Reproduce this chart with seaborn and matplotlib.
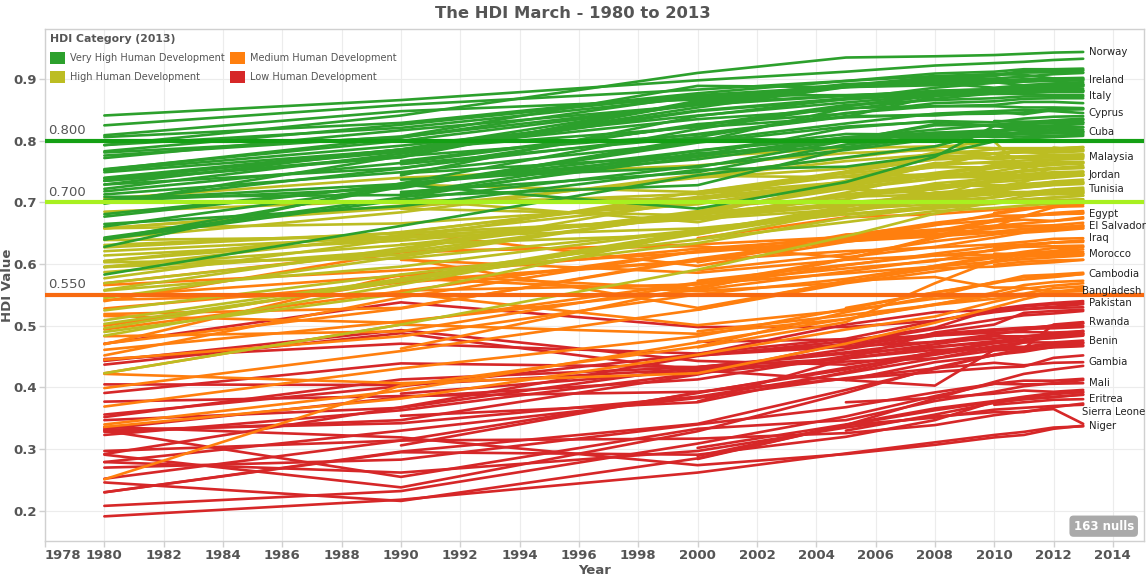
import numpy as np
import pandas as pd
import matplotlib
matplotlib.use('Agg')
import matplotlib.pyplot as plt
import seaborn as sns
from matplotlib.patches import Patch

nan = np.nan
years = [1980, 1990, 2000, 2005, 2008, 2010, 2011, 2012, 2013]

very_high = {
    'Norway': [0.793, 0.841, 0.910, 0.935, 0.937, 0.939, 0.941, 0.943, 0.944],
    'Australia': [0.841, 0.866, 0.898, 0.912, 0.922, 0.926, 0.928, 0.931, 0.933],
    'Switzerland': [0.806, 0.829, 0.877, 0.897, 0.909, 0.912, 0.916, 0.916, 0.917],
    'Netherlands': [0.783, 0.826, 0.874, 0.888, 0.899, 0.905, 0.914, 0.915, 0.915],
    'United States': [0.825, 0.858, 0.883, 0.897, 0.905, 0.908, 0.911, 0.912, 0.914],
    'Germany': [0.739, 0.782, 0.854, 0.887, 0.902, 0.906, 0.911, 0.911, 0.911],
    'New Zealand': [0.793, 0.821, 0.870, 0.888, 0.898, 0.901, 0.904, 0.908, 0.910],
    'Canada': [0.809, 0.848, 0.867, 0.892, 0.896, 0.896, 0.900, 0.901, 0.902],
    'Singapore': [nan, 0.744, 0.840, 0.868, 0.886, 0.894, 0.896, 0.899, 0.901],
    'Denmark': [0.781, 0.806, 0.859, 0.891, 0.896, 0.898, 0.899, 0.900, 0.900],
    'Ireland': [0.735, 0.775, 0.862, 0.890, 0.903, 0.908, 0.907, 0.901, 0.899],
    'Sweden': [0.776, 0.807, 0.889, 0.887, 0.890, 0.895, 0.896, 0.897, 0.898],
    'Iceland': [0.754, 0.800, 0.858, 0.888, 0.894, 0.886, 0.890, 0.893, 0.895],
    'United Kingdom': [0.735, 0.773, 0.865, 0.887, 0.892, 0.895, 0.890, 0.891, 0.892],
    'Hong Kong': [0.698, 0.775, 0.810, 0.839, 0.872, 0.882, 0.886, 0.889, 0.891],
    'Korea': [0.628, 0.731, 0.819, 0.856, 0.874, 0.882, 0.886, 0.888, 0.891],
    'Japan': [0.772, 0.817, 0.858, 0.873, 0.881, 0.884, 0.887, 0.888, 0.890],
    'Liechtenstein': [nan, nan, nan, nan, 0.881, 0.883, 0.887, 0.888, 0.889],
    'Israel': [0.749, 0.785, 0.849, 0.869, 0.877, 0.881, 0.885, 0.886, 0.888],
    'France': [0.722, 0.779, 0.848, 0.867, 0.875, 0.879, 0.882, 0.884, 0.884],
    'Austria': [0.736, 0.786, 0.835, 0.851, 0.868, 0.877, 0.879, 0.880, 0.881],
    'Belgium': [0.753, 0.805, 0.873, 0.874, 0.878, 0.880, 0.880, 0.880, 0.881],
    'Luxembourg': [0.729, 0.786, 0.861, 0.873, 0.877, 0.879, 0.878, 0.880, 0.881],
    'Finland': [0.752, 0.792, 0.841, 0.862, 0.874, 0.877, 0.880, 0.879, 0.879],
    'Slovenia': [nan, 0.767, 0.824, 0.856, 0.873, 0.876, 0.876, 0.874, 0.874],
    'Italy': [0.718, 0.764, 0.825, 0.858, 0.866, 0.869, 0.872, 0.872, 0.872],
    'Spain': [0.702, 0.755, 0.827, 0.844, 0.861, 0.864, 0.868, 0.869, 0.869],
    'Czech Republic': [nan, 0.762, 0.806, 0.845, 0.856, 0.858, 0.863, 0.863, 0.861],
    'Greece': [0.713, 0.749, 0.798, 0.853, 0.856, 0.856, 0.854, 0.854, 0.853],
    'Brunei': [0.740, 0.786, 0.822, 0.838, 0.843, 0.844, 0.846, 0.852, 0.852],
    'Qatar': [0.729, 0.756, 0.811, 0.840, 0.841, 0.847, 0.843, 0.850, 0.851],
    'Cyprus': [0.661, 0.726, 0.800, 0.828, 0.844, 0.848, 0.850, 0.848, 0.845],
    'Estonia': [nan, 0.730, 0.776, 0.821, 0.832, 0.830, 0.836, 0.839, 0.840],
    'Saudi Arabia': [0.583, 0.662, 0.744, 0.773, 0.791, 0.815, 0.825, 0.833, 0.836],
    'Lithuania': [nan, 0.737, 0.757, 0.800, 0.827, 0.824, 0.828, 0.831, 0.834],
    'Poland': [nan, 0.714, 0.784, 0.805, 0.818, 0.826, 0.830, 0.833, 0.834],
    'Andorra': [nan, nan, nan, nan, nan, 0.832, 0.831, 0.830, 0.830],
    'Slovakia': [nan, 0.747, 0.776, 0.802, 0.825, 0.826, 0.827, 0.829, 0.830],
    'Malta': [0.704, 0.730, 0.770, 0.801, 0.813, 0.813, 0.821, 0.823, 0.829],
    'United Arab Emirates': [0.640, 0.725, 0.797, 0.823, 0.831, 0.824, 0.824, 0.825, 0.827],
    'Chile': [0.640, 0.704, 0.759, 0.785, 0.803, 0.808, 0.815, 0.819, 0.822],
    'Portugal': [0.643, 0.708, 0.780, 0.790, 0.805, 0.816, 0.819, 0.822, 0.822],
    'Hungary': [0.709, 0.712, 0.774, 0.806, 0.813, 0.817, 0.817, 0.817, 0.818],
    'Bahrain': [0.677, 0.729, 0.784, 0.811, 0.810, 0.812, 0.812, 0.813, 0.815],
    'Cuba': [0.681, 0.729, 0.690, 0.733, 0.774, 0.824, 0.819, 0.813, 0.815],
    'Kuwait': [0.702, 0.723, 0.804, 0.800, 0.810, 0.810, 0.813, 0.813, 0.814],
    'Croatia': [nan, 0.717, 0.749, 0.794, 0.807, 0.808, 0.811, 0.812, 0.812],
    'Latvia': [nan, 0.710, 0.728, 0.787, 0.812, 0.806, 0.807, 0.808, 0.810],
    'Argentina': [0.665, 0.694, 0.753, 0.758, 0.777, 0.799, 0.804, 0.806, 0.808],
}

high = {
    'Uruguay': [0.658, 0.691, 0.740, 0.755, 0.773, 0.779, 0.783, 0.787, 0.790],
    'Bahamas': [nan, nan, 0.774, 0.788, 0.791, 0.788, 0.788, 0.788, 0.789],
    'Montenegro': [nan, nan, nan, 0.750, 0.778, 0.786, 0.787, 0.787, 0.789],
    'Belarus': [nan, nan, 0.683, 0.727, 0.761, 0.779, 0.786, 0.785, 0.786],
    'Romania': [0.685, 0.703, 0.706, 0.750, 0.781, 0.779, 0.782, 0.782, 0.785],
    'Libya': [0.641, 0.684, 0.745, 0.772, 0.789, 0.799, 0.753, 0.789, 0.784],
    'Oman': [nan, nan, 0.714, 0.733, 0.759, 0.780, 0.781, 0.781, 0.783],
    'Russia': [nan, 0.729, 0.717, 0.750, 0.770, 0.773, 0.775, 0.777, 0.778],
    'Bulgaria': [0.658, 0.695, 0.714, 0.749, 0.770, 0.773, 0.774, 0.776, 0.777],
    'Barbados': [0.706, 0.740, 0.760, 0.780, 0.785, 0.779, 0.783, 0.776, 0.776],
    'Palau': [nan, nan, 0.741, 0.767, 0.778, 0.770, 0.773, 0.775, 0.775],
    'Antigua and Barbuda': [nan, nan, nan, nan, nan, 0.778, 0.772, 0.773, 0.774],
    'Malaysia': [0.577, 0.641, 0.717, 0.747, 0.760, 0.766, 0.768, 0.770, 0.773],
    'Mauritius': [0.558, 0.626, 0.686, 0.722, 0.738, 0.756, 0.763, 0.769, 0.771],
    'Trinidad and Tobago': [0.658, 0.666, 0.697, 0.735, 0.764, 0.764, 0.763, 0.765, 0.766],
    'Lebanon': [nan, nan, nan, 0.735, 0.743, 0.761, 0.764, 0.764, 0.765],
    'Panama': [0.627, 0.651, 0.709, 0.730, 0.748, 0.759, 0.757, 0.761, 0.765],
    'Venezuela': [0.639, 0.644, 0.673, 0.716, 0.747, 0.756, 0.759, 0.763, 0.764],
    'Costa Rica': [0.605, 0.652, 0.705, 0.727, 0.744, 0.750, 0.758, 0.761, 0.763],
    'Turkey': [0.496, 0.576, 0.653, 0.687, 0.710, 0.738, 0.752, 0.756, 0.759],
    'Kazakhstan': [nan, 0.690, 0.679, 0.733, 0.744, 0.747, 0.750, 0.754, 0.757],
    'Mexico': [0.595, 0.647, 0.699, 0.724, 0.739, 0.746, 0.752, 0.755, 0.756],
    'Seychelles': [nan, nan, 0.743, 0.741, 0.746, 0.743, 0.752, 0.755, 0.756],
    'Saint Kitts and Nevis': [nan, nan, nan, nan, 0.741, 0.741, 0.746, 0.749, 0.750],
    'Sri Lanka': [0.569, 0.620, 0.679, 0.710, 0.725, 0.736, 0.740, 0.745, 0.750],
    'Iran': [0.490, 0.552, 0.652, 0.694, 0.711, 0.725, 0.733, 0.749, 0.749],
    'Azerbaijan': [nan, nan, 0.640, 0.686, 0.724, 0.743, 0.743, 0.745, 0.747],
    'Jordan': [0.587, 0.622, 0.705, 0.733, 0.742, 0.744, 0.744, 0.744, 0.745],
    'Serbia': [nan, nan, 0.713, 0.743, 0.757, 0.757, 0.764, 0.743, 0.745],
    'Brazil': [0.545, 0.612, 0.682, 0.705, 0.731, 0.739, 0.740, 0.742, 0.744],
    'Georgia': [nan, nan, nan, 0.710, 0.721, 0.733, 0.736, 0.740, 0.744],
    'Grenada': [nan, nan, nan, 0.735, 0.744, 0.742, 0.743, 0.743, 0.744],
    'Peru': [0.595, 0.615, 0.682, 0.695, 0.716, 0.722, 0.727, 0.734, 0.737],
    'Ukraine': [nan, 0.705, 0.668, 0.713, 0.729, 0.726, 0.730, 0.733, 0.734],
    'Belize': [0.621, 0.644, 0.675, 0.695, 0.703, 0.716, 0.729, 0.731, 0.732],
    'Macedonia': [nan, nan, nan, 0.711, 0.726, 0.728, 0.728, 0.730, 0.732],
    'Bosnia and Herzegovina': [nan, nan, nan, 0.722, 0.714, 0.718, 0.724, 0.729, 0.731],
    'Armenia': [nan, 0.632, 0.648, 0.693, 0.716, 0.720, 0.724, 0.728, 0.730],
    'Fiji': [0.596, 0.631, 0.683, 0.696, 0.707, 0.713, 0.715, 0.721, 0.724],
    'Thailand': [0.503, 0.572, 0.649, 0.685, 0.704, 0.715, 0.716, 0.720, 0.722],
    'Tunisia': [0.484, 0.567, 0.653, 0.687, 0.706, 0.715, 0.716, 0.719, 0.721],
    'China': [0.423, 0.502, 0.591, 0.645, 0.682, 0.701, 0.710, 0.715, 0.719],
    'Saint Vincent': [nan, nan, nan, nan, nan, 0.712, 0.713, 0.717, 0.719],
    'Algeria': [0.509, 0.576, 0.634, 0.675, 0.692, 0.709, 0.715, 0.715, 0.717],
    'Dominica': [nan, nan, 0.691, 0.709, 0.713, 0.716, 0.717, 0.716, 0.717],
    'Albania': [0.603, 0.609, 0.655, 0.689, 0.703, 0.708, 0.714, 0.714, 0.716],
    'Jamaica': [0.614, 0.638, 0.676, 0.700, 0.710, 0.715, 0.714, 0.713, 0.715],
    'Saint Lucia': [nan, nan, nan, nan, nan, 0.717, 0.715, 0.715, 0.714],
    'Colombia': [0.557, 0.596, 0.655, 0.681, 0.690, 0.698, 0.704, 0.708, 0.711],
    'Ecuador': [0.605, 0.643, 0.658, 0.681, 0.693, 0.701, 0.705, 0.708, 0.711],
    'Suriname': [nan, nan, nan, 0.680, 0.694, 0.701, 0.703, 0.702, 0.705],
    'Tonga': [0.631, 0.650, 0.673, 0.689, 0.697, 0.703, 0.704, 0.704, 0.705],
    'Dominican Republic': [0.525, 0.583, 0.640, 0.668, 0.686, 0.691, 0.695, 0.698, 0.700],
}

medium = {
    'Maldives': [nan, nan, 0.603, 0.641, 0.663, 0.681, 0.688, 0.695, 0.698],
    'Mongolia': [nan, 0.557, 0.567, 0.608, 0.642, 0.661, 0.678, 0.692, 0.698],
    'Turkmenistan': [nan, nan, nan, nan, nan, 0.683, 0.690, 0.693, 0.698],
    'Samoa': [nan, nan, 0.642, 0.676, 0.681, 0.688, 0.691, 0.693, 0.694],
    'Palestine': [nan, nan, nan, 0.647, 0.664, 0.671, 0.678, 0.683, 0.686],
    'Indonesia': [0.471, 0.528, 0.609, 0.640, 0.654, 0.671, 0.678, 0.681, 0.684],
    'Botswana': [0.470, 0.583, 0.560, 0.608, 0.644, 0.672, 0.678, 0.681, 0.683],
    'Egypt': [0.452, 0.546, 0.621, 0.645, 0.667, 0.678, 0.679, 0.681, 0.682],
    'Paraguay': [0.548, 0.581, 0.625, 0.641, 0.652, 0.669, 0.672, 0.670, 0.676],
    'Gabon': [0.540, 0.619, 0.632, 0.644, 0.654, 0.662, 0.666, 0.670, 0.674],
    'Bolivia': [0.494, 0.556, 0.621, 0.637, 0.648, 0.658, 0.661, 0.663, 0.667],
    'Moldova': [nan, 0.652, 0.597, 0.636, 0.655, 0.652, 0.657, 0.657, 0.663],
    'El Salvador': [0.519, 0.529, 0.607, 0.638, 0.649, 0.652, 0.657, 0.660, 0.662],
    'Uzbekistan': [nan, nan, 0.590, 0.616, 0.637, 0.648, 0.653, 0.657, 0.661],
    'Philippines': [0.566, 0.590, 0.619, 0.637, 0.645, 0.651, 0.652, 0.656, 0.660],
    'South Africa': [0.569, 0.621, 0.629, 0.611, 0.628, 0.643, 0.651, 0.654, 0.658],
    'Syria': [0.528, 0.570, 0.605, 0.648, 0.656, 0.662, 0.662, 0.662, 0.658],
    'Iraq': [0.500, 0.572, 0.606, 0.621, 0.627, 0.632, 0.636, 0.641, 0.642],
    'Guyana': [0.516, 0.505, 0.570, 0.593, 0.605, 0.624, 0.630, 0.635, 0.638],
    'Viet Nam': [nan, 0.463, 0.563, 0.598, 0.617, 0.629, 0.632, 0.635, 0.638],
    'Cape Verde': [nan, nan, 0.573, 0.599, 0.614, 0.622, 0.629, 0.635, 0.636],
    'Micronesia': [nan, nan, nan, nan, nan, 0.627, 0.628, 0.629, 0.630],
    'Guatemala': [0.445, 0.483, 0.551, 0.576, 0.597, 0.613, 0.620, 0.626, 0.628],
    'Kyrgyzstan': [nan, 0.607, 0.586, 0.607, 0.614, 0.615, 0.618, 0.621, 0.628],
    'Namibia': [nan, 0.577, 0.556, 0.570, 0.597, 0.610, 0.616, 0.620, 0.624],
    'Timor-Leste': [nan, nan, 0.465, 0.506, 0.569, 0.606, 0.616, 0.618, 0.620],
    'Honduras': [0.461, 0.507, 0.558, 0.588, 0.607, 0.612, 0.615, 0.616, 0.617],
    'Morocco': [0.399, 0.459, 0.526, 0.569, 0.588, 0.603, 0.612, 0.614, 0.617],
    'Vanuatu': [nan, nan, nan, nan, nan, 0.617, 0.616, 0.616, 0.616],
    'Nicaragua': [0.483, 0.491, 0.568, 0.585, 0.596, 0.604, 0.608, 0.611, 0.614],
    'Kiribati': [nan, nan, nan, nan, nan, 0.599, 0.604, 0.606, 0.607],
    'Tajikistan': [nan, 0.610, 0.529, 0.572, 0.593, 0.596, 0.600, 0.603, 0.607],
    'India': [0.369, 0.431, 0.483, 0.527, 0.554, 0.570, 0.581, 0.583, 0.586],
    'Bhutan': [nan, nan, nan, 0.529, 0.554, 0.569, 0.579, 0.580, 0.584],
    'Cambodia': [0.251, 0.403, 0.466, 0.522, 0.548, 0.571, 0.575, 0.579, 0.584],
    'Ghana': [0.423, 0.502, 0.487, 0.511, 0.534, 0.554, 0.566, 0.571, 0.573],
    'Laos': [0.340, 0.395, 0.473, 0.511, 0.535, 0.549, 0.560, 0.565, 0.569],
    'Congo': [0.542, 0.553, 0.501, 0.525, 0.544, 0.549, 0.552, 0.561, 0.564],
    'Zambia': [0.422, 0.407, 0.423, 0.471, 0.505, 0.530, 0.543, 0.554, 0.561],
    'Bangladesh': [0.336, 0.382, 0.453, 0.494, 0.515, 0.539, 0.549, 0.554, 0.558],
    'Sao Tome and Principe': [nan, nan, 0.491, 0.517, 0.534, 0.544, 0.548, 0.556, 0.558],
    'Equatorial Guinea': [nan, nan, 0.526, 0.573, 0.579, 0.562, 0.562, 0.555, 0.556],
}

low = {
    'Nepal': [0.292, 0.368, 0.451, 0.475, 0.497, 0.527, 0.533, 0.537, 0.540],
    'Pakistan': [0.356, 0.402, 0.454, 0.502, 0.522, 0.526, 0.531, 0.535, 0.537],
    'Kenya': [0.446, 0.471, 0.455, 0.479, 0.508, 0.522, 0.527, 0.531, 0.535],
    'Swaziland': [0.471, 0.538, 0.498, 0.498, 0.508, 0.525, 0.527, 0.529, 0.530],
    'Angola': [nan, nan, 0.377, 0.446, 0.489, 0.502, 0.521, 0.524, 0.526],
    'Myanmar': [0.328, 0.347, 0.421, 0.472, 0.495, 0.510, 0.517, 0.520, 0.524],
    'Rwanda': [0.291, 0.238, 0.329, 0.391, 0.432, 0.453, 0.463, 0.502, 0.506],
    'Cameroon': [0.391, 0.439, 0.433, 0.457, 0.474, 0.486, 0.493, 0.501, 0.504],
    'Nigeria': [nan, nan, nan, 0.466, 0.487, 0.492, 0.496, 0.500, 0.504],
    'Yemen': [nan, 0.390, 0.427, 0.462, 0.484, 0.494, 0.497, 0.499, 0.500],
    'Madagascar': [nan, nan, 0.453, 0.470, 0.487, 0.494, 0.495, 0.496, 0.498],
    'Zimbabwe': [0.437, 0.488, 0.428, 0.412, 0.403, 0.461, 0.473, 0.484, 0.492],
    'Papua New Guinea': [0.323, 0.363, 0.423, 0.447, 0.465, 0.474, 0.482, 0.488, 0.491],
    'Solomon Islands': [nan, nan, 0.474, 0.478, 0.484, 0.489, 0.490, 0.489, 0.491],
    'Comoros': [nan, nan, 0.452, 0.466, 0.474, 0.479, 0.483, 0.486, 0.488],
    'Tanzania': [nan, 0.354, 0.376, 0.425, 0.455, 0.472, 0.478, 0.484, 0.488],
    'Mauritania': [0.347, 0.367, 0.433, 0.455, 0.466, 0.475, 0.475, 0.485, 0.487],
    'Lesotho': [0.443, 0.493, 0.443, 0.437, 0.456, 0.472, 0.476, 0.481, 0.486],
    'Senegal': [0.333, 0.384, 0.413, 0.451, 0.470, 0.483, 0.483, 0.484, 0.485],
    'Uganda': [nan, 0.306, 0.392, 0.429, 0.458, 0.472, 0.477, 0.480, 0.484],
    'Benin': [0.252, 0.314, 0.391, 0.432, 0.453, 0.467, 0.473, 0.473, 0.476],
    'Sudan': [0.331, 0.342, 0.385, 0.423, 0.447, 0.465, 0.466, 0.472, 0.473],
    'Togo': [0.405, 0.404, 0.430, 0.442, 0.447, 0.460, 0.463, 0.470, 0.473],
    'Haiti': [0.352, 0.413, 0.433, 0.447, 0.461, 0.462, 0.465, 0.469, 0.471],
    'Afghanistan': [0.230, 0.296, 0.341, 0.396, 0.430, 0.453, 0.458, 0.466, 0.468],
    'Djibouti': [nan, nan, nan, 0.412, 0.441, 0.452, 0.461, 0.465, 0.467],
    "Cote d'Ivoire": [0.377, 0.386, 0.393, 0.414, 0.425, 0.432, 0.434, 0.448, 0.452],
    'Gambia': [0.279, 0.330, 0.383, 0.415, 0.431, 0.440, 0.436, 0.440, 0.441],
    'Ethiopia': [nan, nan, 0.284, 0.339, 0.382, 0.409, 0.422, 0.429, 0.435],
    'Malawi': [0.270, 0.283, 0.340, 0.368, 0.392, 0.406, 0.411, 0.411, 0.414],
    'Liberia': [0.330, 0.255, 0.333, 0.347, 0.378, 0.393, 0.402, 0.407, 0.412],
    'Mali': [0.208, 0.232, 0.309, 0.353, 0.386, 0.406, 0.405, 0.406, 0.407],
    'Guinea-Bissau': [nan, nan, nan, 0.376, 0.383, 0.390, 0.395, 0.393, 0.396],
    'Mozambique': [0.246, 0.216, 0.285, 0.339, 0.363, 0.377, 0.384, 0.389, 0.393],
    'Guinea': [nan, nan, 0.302, 0.340, 0.366, 0.378, 0.385, 0.391, 0.392],
    'Burundi': [0.230, 0.295, 0.291, 0.320, 0.347, 0.377, 0.381, 0.384, 0.389],
    'Burkina Faso': [nan, nan, nan, 0.330, 0.356, 0.375, 0.381, 0.385, 0.388],
    'Eritrea': [nan, nan, nan, nan, nan, 0.372, 0.376, 0.380, 0.381],
    'Sierra Leone': [0.279, 0.262, 0.297, 0.335, 0.353, 0.360, 0.360, 0.368, 0.374],
    'Chad': [nan, nan, 0.289, 0.339, 0.351, 0.364, 0.367, 0.370, 0.372],
    'Central African Republic': [0.297, 0.314, 0.317, 0.326, 0.339, 0.355, 0.361, 0.365, 0.341],
    'DR Congo': [0.336, 0.319, 0.274, 0.292, 0.307, 0.319, 0.323, 0.333, 0.338],
    'Niger': [0.191, 0.218, 0.262, 0.293, 0.311, 0.323, 0.328, 0.335, 0.337],
}

categories = ['Very High Human Development', 'High Human Development',
              'Medium Human Development', 'Low Human Development']
cat_colors = ['#2ca02c', '#bcbd22', '#ff7f0e', '#d62728']
label_countries = ['Norway', 'Ireland', 'Italy', 'Cyprus', 'Cuba', 'Malaysia', 'Jordan',
                   'Tunisia', 'Egypt', 'El Salvador', 'Iraq', 'Morocco', 'Cambodia',
                   'Bangladesh', 'Pakistan', 'Rwanda', 'Benin', 'Gambia', 'Mali',
                   'Eritrea', 'Sierra Leone', 'Niger']
ref_values = [0.800, 0.700, 0.550]
ref_colors = ['#14a014', '#a8f020', '#f86a10']
null_count = 163

rows = []
for cat, group in zip(categories, [very_high, high, medium, low]):
    for country, vals in group.items():
        for yr, v in zip(years, vals):
            rows.append((country, cat, yr, v))
df = pd.DataFrame(rows, columns=['country', 'category', 'year', 'hdi'])
df = df.dropna()

sns.set_theme(style='white')
plt.rcParams['font.family'] = ['DejaVu Sans']

fig = plt.figure(figsize=(11.46, 5.83), dpi=100)
ax = fig.add_axes([0.0393, 0.072, 0.9587, 0.878])

# low categories first so that higher ones sit on top
for cat, col in reversed(list(zip(categories, cat_colors))):
    sub = df[df['category'] == cat]
    sns.lineplot(data=sub, x='year', y='hdi', units='country', estimator=None,
                 color=col, linewidth=1.9, ax=ax, legend=False, sort=True)

for v, c in zip(ref_values, ref_colors):
    ax.axhline(v, color=c, linewidth=3, zorder=5)
    ax.text(1978.1, v + 0.006, f'{v:.3f}', color='#555555', fontsize=9.5,
            ha='left', va='bottom', zorder=6)

last = df[df['year'] == 2013].set_index('country')['hdi']
nudge = {'Sierra Leone': (-1, -6), 'Bangladesh': (-1, -1)}
for c in label_countries:
    dx, dy = nudge.get(c, (4, 0))
    ax.annotate(c, (2013, last[c]), xytext=(dx, dy), textcoords='offset points',
                fontsize=7.3, color='#222222', va='center', ha='left', zorder=7)

ax.set_xlim(1978, 2015.04)
ax.set_ylim(0.151, 0.981)
ax.set_xticks(range(1978, 2015, 2))
ax.set_yticks([0.2, 0.3, 0.4, 0.5, 0.6, 0.7, 0.8, 0.9])
ax.set_yticklabels(['0.2', '0.3', '0.4', '0.5', '0.6', '0.7', '0.8', '0.9'])
ax.grid(True, color='#ececec', linewidth=0.8)
ax.set_axisbelow(True)
for s in ax.spines.values():
    s.set_color('#d0d0d0')
    s.set_linewidth(1)
ax.tick_params(axis='both', colors='#d0d0d0', labelcolor='#555555', labelsize=9.5,
               length=4, width=1, left=True, bottom=True, pad=2)
for lbl in ax.get_xticklabels() + ax.get_yticklabels():
    lbl.set_fontweight('bold')
ax.get_xticklabels()[0].set_horizontalalignment('left')
ax.set_xlabel('Year', fontsize=9.5, fontweight='bold', color='#555555', labelpad=1)
ax.set_ylabel('HDI Value', fontsize=9.5, fontweight='bold', color='#555555')
ax.yaxis.set_label_coords(-0.028, 0.5)

fig.suptitle('The HDI March - 1980 to 2013', x=0.5, y=0.99, fontsize=11.8,
             fontweight='bold', color='#555555')

handles = [Patch(facecolor=c, edgecolor='none') for c in cat_colors]
leg = ax.legend(handles, categories, title='HDI Category (2013)', ncol=2,
                loc='upper left', bbox_to_anchor=(0.0, 1.0), frameon=False,
                fontsize=7.0, title_fontsize=7.8, handlelength=1.5, handleheight=1.5,
                handletextpad=0.5, columnspacing=0.6, labelspacing=0.75,
                borderaxespad=0.25, borderpad=0.3)
leg.get_title().set_fontweight('bold')
leg.get_title().set_color('#555555')
leg._legend_box.align = 'left'
for t in leg.get_texts():
    t.set_color('#555555')
leg.set_zorder(8)

ax.text(0.991, 0.029, f'{null_count} nulls', transform=ax.transAxes, ha='right',
        va='center', fontsize=8.5, fontweight='bold', color='white', zorder=9,
        bbox=dict(boxstyle='round,pad=0.35', facecolor='#aaaaaa', edgecolor='none'))

fig.savefig('out.png', dpi=100)
